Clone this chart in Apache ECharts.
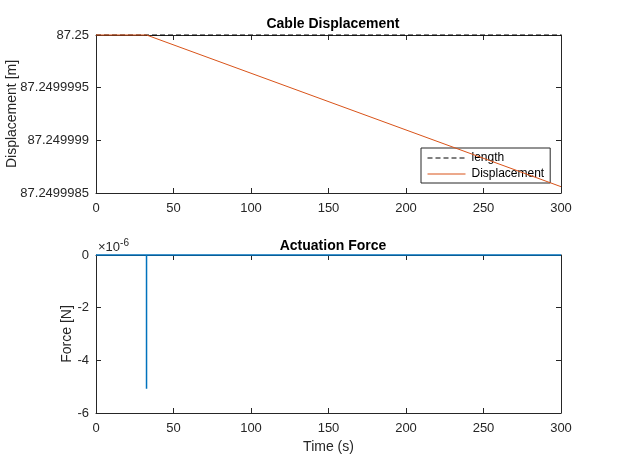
<!DOCTYPE html>
<html>
<head>
<meta charset="utf-8">
<script src="https://cdn.jsdelivr.net/npm/echarts@6/dist/echarts.min.js"></script>
<style>
html,body{margin:0;padding:0;background:#fff;}
#c{width:621px;height:465px;}
</style>
</head>
<body>
<div id="c"></div>
<script>
// ---- data ----
const xTicks = [0, 50, 100, 150, 200, 250, 300];
const lengthTime = [0, 300];
const lengthValue = [87.25, 87.25];
const dispTime = [0, 32.6, 300];
const dispValue = [87.25, 87.25, 87.24999856];
const forceTime = [0, 32.6, 32.6, 32.6, 300];
const forceValue = [0, 0, -5.08e-6, 0, 0];
const dispTickLabels = ['87.2499985', '87.249999', '87.2499995', '87.25'];
const forceTickLabels = ['-6', '-4', '-2', '0'];

const REF = 87.25;
const toMicro = v => (v - REF) * 1e6;
const FONT = 'Liberation Sans, Arial, sans-serif';
const AX = '#262626';

const chart = echarts.init(document.getElementById('c'));

function xAx(grid, pos, showLabel, name) {
  return {
    type: 'value', gridIndex: grid, position: pos, min: 0, max: 300, interval: 50,
    axisLine: {show: true, onZero: false, lineStyle: {color: AX, width: 1}},
    axisTick: {show: true, inside: true, length: 5, lineStyle: {color: AX}},
    axisLabel: {show: showLabel, color: AX, fontSize: 13, fontFamily: FONT, margin: 9},
    splitLine: {show: false},
    name: name || '', nameLocation: 'middle', nameGap: 27, nameMoveOverlap: false,
    nameTextStyle: {color: AX, fontSize: 14, fontFamily: FONT}
  };
}
function yAx(grid, pos, showLabel, min, max, interval, fmt, name, gap) {
  return {
    type: 'value', gridIndex: grid, position: pos, min: min, max: max, interval: interval,
    axisLine: {show: true, onZero: false, lineStyle: {color: AX, width: 1}},
    axisTick: {show: true, inside: true, length: 5, lineStyle: {color: AX}},
    axisLabel: {show: showLabel, color: AX, fontSize: 13, fontFamily: FONT, margin: 7, formatter: fmt},
    splitLine: {show: false},
    name: name || '', nameLocation: 'middle', nameGap: gap || 0, nameMoveOverlap: false,
    nameTextStyle: {color: AX, fontSize: 14, fontFamily: FONT}
  };
}

const dispFmt = v => {
  const i = Math.round((v + 1.5) / 0.5);
  return dispTickLabels[i] !== undefined ? dispTickLabels[i] : '';
};
const forceFmt = v => {
  const i = Math.round((v + 6) / 2);
  return forceTickLabels[i] !== undefined ? forceTickLabels[i] : '';
};

const option = {
  animation: false,
  backgroundColor: '#fff',
  textStyle: {fontFamily: FONT},
  title: [
    {text: 'Cable Displacement', left: 328, top: 12, textAlign: 'center',
     textStyle: {fontSize: 14, fontWeight: 'bold', color: '#000', fontFamily: FONT}},
    {text: 'Actuation Force', left: 328, top: 234, textAlign: 'center',
     textStyle: {fontSize: 14, fontWeight: 'bold', color: '#000', fontFamily: FONT}}
  ],
  grid: [
    {left: 96, right: 60, top: 35, height: 158, containLabel: false, outerBoundsMode: 'none'},
    {left: 96, right: 60, top: 255, height: 158, containLabel: false, outerBoundsMode: 'none'}
  ],
  legend: {
    left: 421, top: 148, orient: 'vertical',
    data: ['length', 'Displacement'],
    backgroundColor: '#fff', borderColor: AX, borderWidth: 1,
    padding: [4, 6, 3, 6], itemGap: 4, itemWidth: 38, itemHeight: 12,
    itemStyle: {opacity: 0},
    lineStyle: {width: 1},
    textStyle: {color: '#000', fontSize: 12, fontFamily: FONT, padding: [0, 0, 0, 1]}
  },
  xAxis: [
    xAx(0, 'bottom', true, ''),
    xAx(0, 'top', false, ''),
    xAx(1, 'bottom', true, 'Time (s)'),
    xAx(1, 'top', false, '')
  ],
  yAxis: [
    yAx(0, 'left', true, -1.5, 0, 0.5, dispFmt, 'Displacement [m]', 77),
    yAx(0, 'right', false, -1.5, 0, 0.5, dispFmt, '', 0),
    yAx(1, 'left', true, -6, 0, 2, forceFmt, 'Force [N]', 22),
    yAx(1, 'right', false, -6, 0, 2, forceFmt, '', 0)
  ],
  graphic: [
    {type: 'text', left: 98, top: 238,
     style: {text: '{a|×10}{b|-6}', rich: {
       a: {fontSize: 13, fill: AX, fontFamily: FONT, verticalAlign: 'bottom'},
       b: {fontSize: 10, fill: AX, fontFamily: FONT, verticalAlign: 'top', padding: [0, 0, 6, 0]}
     }}}
  ],
  series: [
    {name: 'length', type: 'line', xAxisIndex: 0, yAxisIndex: 0, symbol: 'none', clip: false,
     data: lengthTime.map((t, i) => [t, toMicro(lengthValue[i])]),
     lineStyle: {color: '#000', width: 1, type: [5, 3]}, itemStyle: {color: '#000'}, z: 3},
    {name: 'Displacement', type: 'line', xAxisIndex: 0, yAxisIndex: 0, symbol: 'none', clip: false,
     data: dispTime.map((t, i) => [t, toMicro(dispValue[i])]),
     lineStyle: {color: '#D95319', width: 1}, itemStyle: {color: '#D95319'}, z: 4},
    {name: 'Force', type: 'line', xAxisIndex: 2, yAxisIndex: 2, symbol: 'none', clip: false,
     data: forceTime.map((t, i) => [t, forceValue[i] * 1e6]),
     lineStyle: {color: '#0072BD', width: 1.5}, itemStyle: {color: '#0072BD'}, z: 4}
  ]
};
chart.setOption(option);
</script>
</body>
</html>
